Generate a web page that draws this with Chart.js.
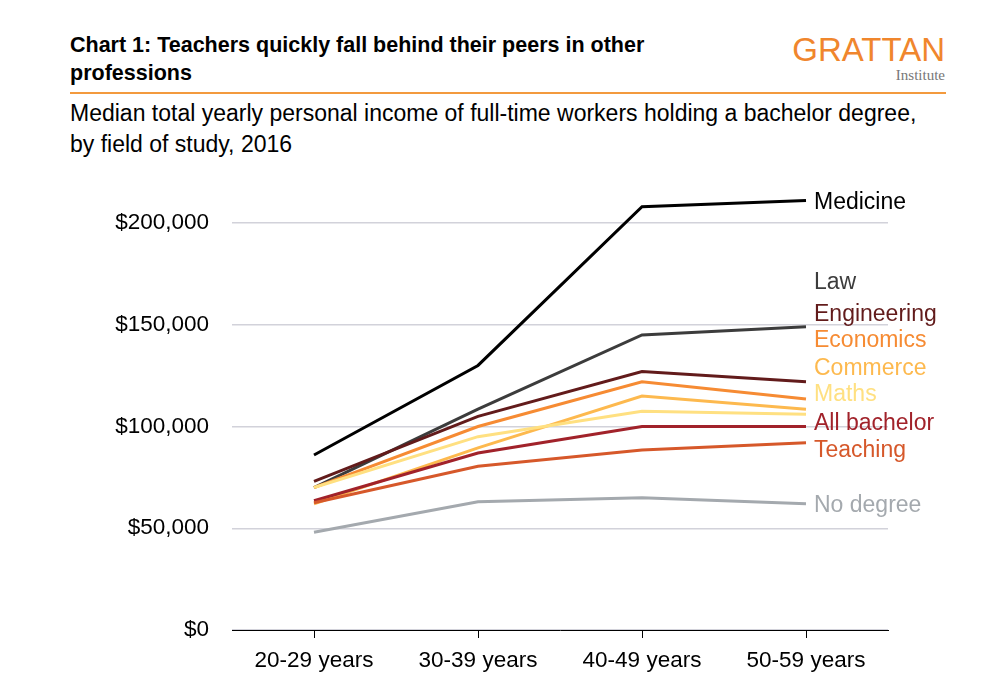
<!DOCTYPE html>
<html>
<head>
<meta charset="utf-8">
<script src="https://cdn.jsdelivr.net/npm/chart.js@4"></script>
<style>
  body { margin: 0; width: 1000px; height: 683px; background: #fff; font-family: "Liberation Sans", Arial, sans-serif; position: relative; overflow: hidden; }
  #wrap { position: absolute; left: 0; top: 0; width: 1000px; height: 683px; }
  .title { position: absolute; left: 70px; top: 31px; font-size: 21.5px; font-weight: bold; line-height: 28px; color: #000; width: 690px; }
  .sub { position: absolute; left: 70px; top: 98px; font-size: 23px; line-height: 31px; color: #000; width: 860px; }
  .rule { position: absolute; left: 70px; top: 92px; width: 876px; height: 2px; background: #f39a3d; }
  .logo { position: absolute; right: 55px; top: 33px; text-align: right; color: #f0862d; }
  .logo .g { font-size: 33px; line-height: 34px; font-weight: 300; }
  .logo .i { font-family: "Liberation Serif", serif; font-size: 15px; color: #777; line-height: 16px; }
</style>
</head>
<body>
<div class="title">Chart 1: Teachers quickly fall behind their peers in other professions</div>
<div class="logo"><div class="g">GRATTAN</div><div class="i">Institute</div></div>
<div class="rule"></div>
<div class="sub">Median total yearly personal income of full-time workers holding a bachelor degree, by field of study, 2016</div>
<div id="wrap"><canvas id="c"></canvas></div>
<script>
const categories = ['20-29 years', '30-39 years', '40-49 years', '50-59 years'];
const yTicks = [0, 50000, 100000, 150000, 200000];

const medicine = [86000, 130000, 208000, 211000];
const law = [70000, 108500, 145000, 149000];
const engineering = [73000, 105000, 127000, 122000];
const economics = [70000, 100000, 122000, 113500];
const commerce = [62000, 89500, 115000, 108500];
const maths = [70000, 95000, 107500, 106000];
const allBachelor = [63500, 87000, 100000, 100000];
const teaching = [62500, 80500, 88500, 92000];
const noDegree = [48000, 63000, 65000, 62000];

// label names, colours and vertical placement (in $) of end labels
const seriesNames = ['Medicine', 'Law', 'Engineering', 'Economics', 'Commerce', 'Maths', 'All bachelor', 'Teaching', 'No degree'];
const seriesColors = ['#000000', '#3c3c3c', '#621b1b', '#f68b33', '#fdb94e', '#ffe081', '#a1222a', '#d6582a', '#a4a9ae'];
const labelValues = [210000, 170500, 155000, 142000, 128500, 115700, 101500, 88000, 61000];
const seriesData = [medicine, law, engineering, economics, commerce, maths, allBachelor, teaching, noDegree];

const endLabels = {
  id: 'endLabels',
  afterDatasetsDraw(chart) {
    const c = chart.ctx;
    const y = chart.scales.y;
    c.save();
    c.font = '23px "Liberation Sans", Arial, sans-serif';
    c.textBaseline = 'middle';
    seriesNames.forEach((n, i) => {
      c.fillStyle = seriesColors[i];
      c.fillText(n, 814, y.getPixelForValue(labelValues[i]));
    });
    c.restore();
  }
};

new Chart(document.getElementById('c'), {
  type: 'line',
  data: {
    labels: categories,
    datasets: seriesNames.map((n, i) => ({
      label: n,
      data: seriesData[i],
      borderColor: seriesColors[i],
      borderWidth: 3,
      pointRadius: 0,
      tension: 0,
      clip: false
    })).reverse()
  },
  options: {
    responsive: true,
    maintainAspectRatio: false,
    animation: false,
    layout: { padding: { top: 223, right: 112, left: 0, bottom: 0 } },
    plugins: { legend: { display: false }, tooltip: { enabled: false } },
    scales: {
      x: {
        offset: true,
        grid: { drawOnChartArea: false, tickLength: 8, color: '#000', lineWidth: 1 },
        border: { color: '#000' },
        ticks: { color: '#000', font: { size: 22.5, family: '"Liberation Sans", Arial' }, padding: 9 },
        afterFit(s) { s.height = 53; }
      },
      y: {
        min: 0,
        max: 200000,
        afterBuildTicks(s) { s.ticks = yTicks.map(v => ({ value: v })); },
        grid: { color: '#d2d2da', drawTicks: false, lineWidth: 1.5 },
        border: { display: false },
        ticks: {
          color: '#000',
          padding: 23,
          font: { size: 22.5, family: '"Liberation Sans", Arial' },
          callback: v => '$' + v.toLocaleString('en-US')
        },
        afterFit(s) { s.width = 232; }
      }
    }
  },
  plugins: [endLabels]
});
</script>
</body>
</html>
